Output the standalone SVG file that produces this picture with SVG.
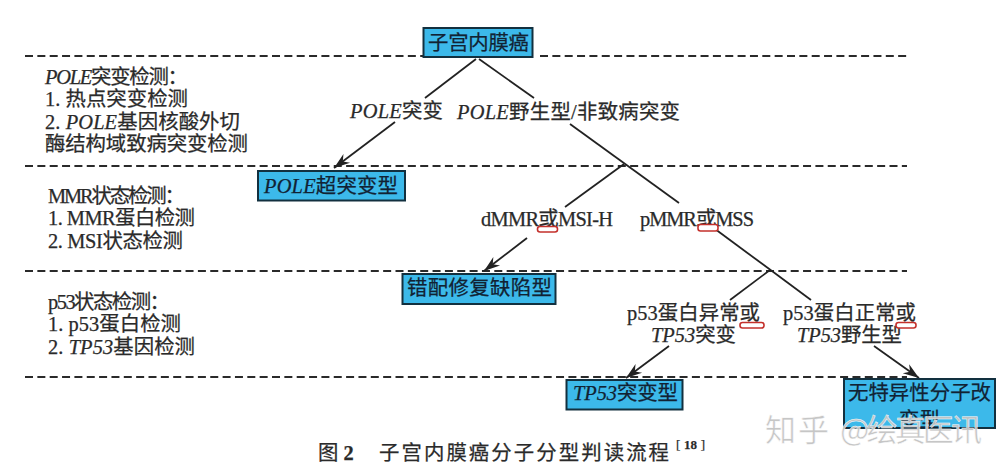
<svg xmlns="http://www.w3.org/2000/svg" width="1008" height="472" viewBox="0 0 1008 472">
<style>
text{font-family:"Liberation Serif","Noto Sans CJK SC",serif;font-size:20.400px;fill:#2a2a2a;stroke:#2a2a2a;stroke-width:.25}
.b{fill:#123;stroke:#123}
.i{font-style:italic}
.box{fill:#3cb9ea;stroke:#12303f;stroke-width:2}
.dash{stroke:#2a2a2a;stroke-width:1.8;stroke-dasharray:8 4.35;fill:none}
.ln{stroke:#222;stroke-width:1.8;fill:none}
.red{fill:#fff;stroke:#c4302b;stroke-width:1.6}
text.wm{font-family:"Noto Sans CJK SC","Noto Sans",sans-serif;font-size:31px;fill:#c4c4c4;stroke:#fff;stroke-width:.5;opacity:.95}
</style>
<defs>
<marker id="arr" markerUnits="userSpaceOnUse" markerWidth="18" markerHeight="14" refX="16" refY="7" orient="auto">
<path d="M0 1.5L16 7L0 12.500L5 7Z" fill="#222"/>
</marker>
<clipPath id="cb"><rect x="844" y="379" width="151" height="49"/></clipPath>
</defs>
<rect width="1008" height="472" fill="#fff"/>
<g id="guides">
<line class="dash" x1="25" y1="56" x2="423" y2="56"/><line class="dash" x1="540" y1="56" x2="907" y2="56"/>
<line class="dash" x1="25" y1="166" x2="907" y2="166"/>
<line class="dash" x1="25" y1="271" x2="907" y2="271"/>
<line class="dash" x1="25" y1="377" x2="907" y2="377"/>
</g>
<g id="connectors">
<line class="ln" x1="476" y1="59" x2="425" y2="98"/>
<line class="ln" x1="395" y1="122" x2="334" y2="168" marker-end="url(#arr)"/>
<line class="ln" x1="479" y1="59" x2="534" y2="98"/>
<line class="ln" x1="570" y1="124" x2="679" y2="203"/>
<line class="ln" x1="624" y1="164" x2="565" y2="207"/>
<line class="ln" x1="527" y1="238" x2="484" y2="271" marker-end="url(#arr)"/>
<line class="ln" x1="711" y1="226" x2="811" y2="300"/>
<line class="ln" x1="770" y1="270" x2="730" y2="300"/>
<line class="ln" x1="669" y1="346" x2="626" y2="378" marker-end="url(#arr)"/>
<line class="ln" x1="874" y1="346" x2="919" y2="378" marker-end="url(#arr)"/>
</g>
<g id="panel-pole">
<text x="45" y="84" textLength="143"><tspan class="i">POLE</tspan>突变检测：</text>
<text x="45" y="106" textLength="143">1. 热点突变检测</text>
<text x="45" y="129" textLength="195">2. <tspan class="i">POLE</tspan>基因核酸外切</text>
<text x="45" y="151" textLength="203">酶结构域致病突变检测</text>
</g>
<g id="panel-mmr">
<text x="48" y="203" textLength="137">MMR状态检测：</text>
<text x="48" y="225" textLength="147">1. MMR蛋白检测</text>
<text x="48" y="248" textLength="135">2. MSI状态检测</text>
</g>
<g id="panel-p53">
<text x="48" y="309" textLength="122">p53状态检测：</text>
<text x="48" y="331" textLength="133">1. p53蛋白检测</text>
<text x="48" y="354" textLength="147">2. <tspan class="i">TP53</tspan>基因检测</text>
</g>
<g id="node-root"><rect class="box" x="423.500" y="28" width="109" height="29"/><text class="b" x="428" y="50" textLength="101">子宫内膜癌</text></g>
<g id="node-pole"><rect class="box" x="258" y="171" width="147" height="29.500"/><text class="b" x="264" y="193" textLength="134"><tspan class="i">POLE</tspan>超突变型</text></g>
<g id="node-mmr"><rect class="box" x="402.500" y="274" width="153" height="30"/><text class="b" x="407" y="295" textLength="145">错配修复缺陷型</text></g>
<g id="node-tp53"><rect class="box" x="566.500" y="380" width="116" height="29.500"/><text class="b" x="573" y="400" textLength="105"><tspan class="i">TP53</tspan>突变型</text></g>
<g id="node-nsmp"><rect class="box" x="844" y="379" width="151" height="49"/><text class="b" x="848" y="400" textLength="143">无特异性分子改</text><text class="b" x="919.500" y="427" text-anchor="middle" clip-path="url(#cb)">变型</text></g>
<g id="labels">
<text x="350" y="118" textLength="93"><tspan class="i">POLE</tspan>突变</text>
<text x="457" y="119" textLength="223"><tspan class="i">POLE</tspan>野生型/非致病突变</text>
<text x="481" y="226" textLength="132">dMMR或MSI-H</text>
<text x="640" y="226" textLength="114">pMMR或MSS</text>
<text x="627" y="320" textLength="133">p53蛋白异常或</text>
<text x="651" y="342" textLength="85"><tspan class="i">TP53</tspan>突变</text>
<text x="783" y="320" textLength="133">p53蛋白正常或</text>
<text x="797" y="342" textLength="105"><tspan class="i">TP53</tspan>野生型</text>
</g>
<g id="marks">
<rect class="red" x="537.500" y="226.500" width="20" height="5.500" rx="2.500"/>
<rect class="red" x="698" y="224.500" width="20" height="6.500" rx="2.500"/>
<rect class="red" x="740" y="322.500" width="24" height="5.500" rx="2.500"/>
<rect class="red" x="896" y="322.500" width="20" height="5.500" rx="2.500"/>
</g>
<g id="caption">
<text x="318" y="460">图 <tspan font-weight="bold">2</tspan></text>
<text x="379" y="460" textLength="290">子宫内膜癌分子分型判读流程</text>
<text x="676" y="449" textLength="29" style="font-size:13px"><tspan>[</tspan><tspan font-weight="bold"> 18 </tspan><tspan>]</tspan></text>
</g>
<g id="watermark">
<text class="wm" x="765" y="441" textLength="64">知乎</text>
<text class="wm" x="840" y="441" textLength="142">@绘真医讯</text>
</g>
</svg>
